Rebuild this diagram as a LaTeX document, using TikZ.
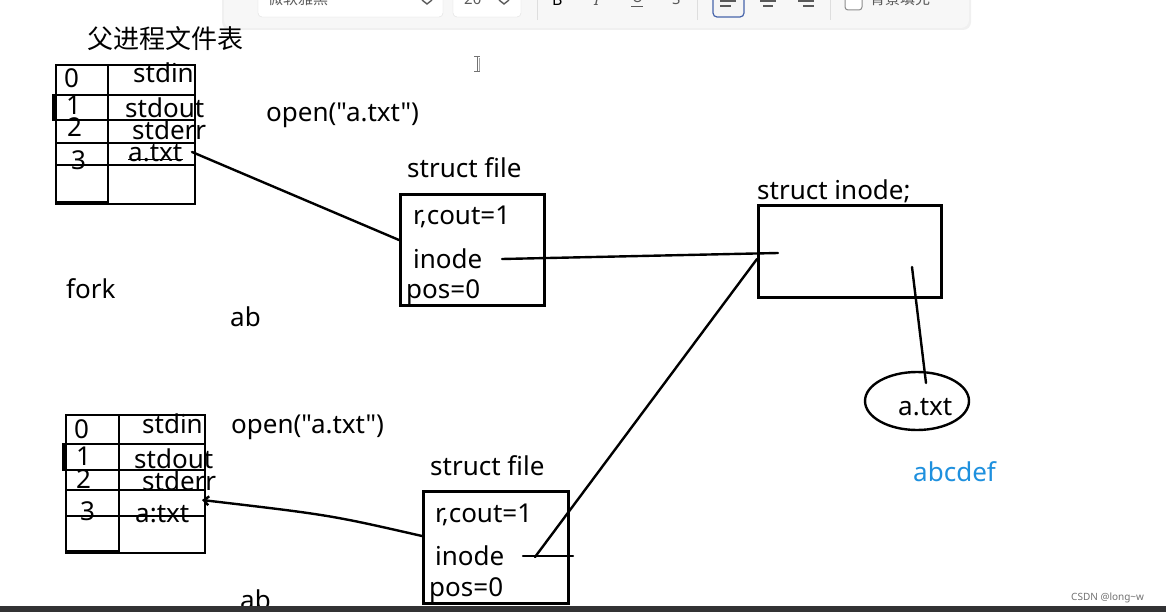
\documentclass[tikz,border=0pt]{standalone}
\usepackage{fontspec}
\setmainfont{Noto Sans}[Ligatures=TeXOff]
\newfontfamily\cjk{Noto Sans CJK SC}
\usetikzlibrary{arrows.meta,shapes.geometric}
\definecolor{tbborder}{RGB}{222,222,222}
\definecolor{tbgray}{RGB}{90,90,90}
\definecolor{selblue}{RGB}{70,100,170}
\definecolor{abcblue}{RGB}{30,144,222}
\definecolor{barcol}{RGB}{50,50,52}
\begin{document}
\begin{tikzpicture}[x=1pt,y=-1pt,
  lbl/.style={anchor=base west, inner sep=0pt, font=\fontsize{26}{30}\selectfont},
  box/.style={draw, line width=2.6pt},
  grid/.style={line width=2.6pt},
  conn/.style={line width=2.4pt, line cap=round},
  tbtext/.style={anchor=base west, inner sep=0pt, text=tbgray, font=\cjk\fontsize{15}{18}\selectfont},
  tbicon/.style={line width=1.4pt, draw=tbgray},
]
\useasboundingbox (0,0) rectangle (1166,612);
\clip (0,0) rectangle (1166,612);
\fill[white] (0,0) rectangle (1166,612);

% ---------- toolbar fragment ----------
\fill[black!6, rounded corners=8pt] (222,-20) rectangle (971,30);
\fill[black!3, rounded corners=8pt] (224,-20) rectangle (969,28);
\fill[white!97!black, rounded corners=7pt] (226,-20) rectangle (967,25);
\draw[tbborder, fill=white, rounded corners=4pt] (258,-20) rectangle (443,17);
\node[tbtext] (tbfont) at (268,5) {微软雅黑};
\draw[tbicon] (422,0) -- (427,4) -- (432,0);
\draw[tbborder, fill=white, rounded corners=4pt] (453,-20) rectangle (521,17);
\node[tbtext, font=\fontsize{15}{18}\selectfont] (tbsize) at (464,5) {20};
\draw[tbicon] (499,0) -- (504,4) -- (509,0);
\draw[tbborder] (537,-20) -- (537,20);
\node[tbtext, text=black, font=\bfseries\fontsize{16}{18}\selectfont] (tbb) at (552,6) {B};
\node[tbtext, font=\itshape\fontsize{16}{18}\selectfont] (tbi) at (594,6) {I};
\node[tbtext, font=\fontsize{15}{18}\selectfont] (tbu) at (632,3) {U};
\draw[tbicon, line width=1pt] (631,7) -- (643,7);
\node[tbtext, font=\fontsize{15}{18}\selectfont] (tbs) at (672,5) {S};
\draw[tbicon, line width=1pt] (670,0) -- (684,0);
\draw[tbborder] (697,-20) -- (697,20);
\draw[selblue, line width=1.2pt, fill=black!4, rounded corners=4pt] (713,-12) rectangle (744,17);
\draw[tbicon] (720,1) -- (736,1) (720,6) -- (731,6);
\draw[tbicon] (760,1) -- (776,1) (763,6) -- (773,6);
\draw[tbicon] (798,1) -- (814,1) (803,6) -- (814,6);
\draw[tbborder] (830,-20) -- (830,20);
\draw[black!45, line width=1pt, fill=white, rounded corners=3pt] (845,-8) rectangle (862,10);
\node[tbtext] (tbbg) at (870,5) {背景填充};

% text cursor
\draw[black!55, line width=1pt] (474,57) -- (480,57) (474,72) -- (480,72) (477,57) -- (477,72);
\draw[black!35, line width=0.8pt] (479,58) -- (479,71);

% ---------- heading ----------
\node[anchor=base west, inner sep=0pt, font=\cjk\fontsize{26}{30}\selectfont] (title) at (87,49) {父进程文件表};

% ---------- parent file table ----------
\draw[grid] (56,65) rectangle (195,204);
\draw[grid] (108,65) -- (108,204);
\draw[grid] (56,95) -- (195,95);
\draw[grid] (56,120) -- (195,120);
\draw[grid] (56,143) -- (195,143);
\draw[grid] (56,165) -- (195,165);
\draw[line width=4pt] (54,94) -- (54,121);
\draw[line width=4.5pt] (56,203) -- (108,203);
\node[lbl] (p0) at (64,88) {0};
\node[lbl] (p1) at (66,115) {1};
\node[lbl] (p2) at (67,137) {2};
\node[lbl] (p3) at (71,170) {3};
\node[lbl] (pin) at (133,83) {stdin};
\node[lbl] (pout) at (125,118) {stdout};
\node[lbl] (perr) at (132,140) {stderr};
\node[lbl] (ptxt) at (128,162) {a.txt};
\draw[line width=1pt] (128,160) -- (183,160);

\node[lbl] (open1) at (266,122) {open("a.txt")};
\node[lbl] (fork) at (66,298) {fork};
\node[lbl] (ab1) at (230,326) {ab};

% ---------- struct file (top) ----------
\node[lbl] (sf1) at (407,178) {struct file};
\node[box, anchor=north west, minimum width=144pt, minimum height=111pt, inner sep=0pt] (f1) at (399,193) {};
\node[lbl] (rc1) at (413,225) {r,cout=1};
\node[lbl] (in1) at (413,268) {inode};
\node[lbl] (pos1) at (406,298) {pos=0};
\coordinate (f1in) at (399,240);
\coordinate (in1p) at (502,259);

% ---------- struct inode ----------
\node[lbl] (si) at (757,200) {struct inode;};
\node[box, anchor=north west, minimum width=183pt, minimum height=92pt, inner sep=0pt] (ino) at (757,204) {};
\coordinate (inoin) at (778,253);
\coordinate (inotip) at (757,259);
\coordinate (inop) at (912,267);
\node[draw, ellipse, line width=2.4pt, minimum width=104pt, minimum height=58pt, inner sep=0pt] (ell) at (917,401) {};
\node[lbl] (etxt) at (898,415) {a.txt};
\coordinate (ellp) at (926,383);

\node[lbl, text=abcblue] (abc) at (913,481) {abcdef};

% ---------- child file table ----------
\draw[grid] (66,415) rectangle (205,553);
\draw[grid] (119,415) -- (119,553);
\draw[grid] (66,444) -- (205,444);
\draw[grid] (66,470) -- (205,470);
\draw[grid] (66,490) -- (205,490);
\draw[grid] (66,516) -- (205,516);
\draw[line width=4pt] (64,443) -- (64,471);
\draw[line width=4.5pt] (66,552) -- (119,552);
\node[lbl] (c0) at (74,438) {0};
\node[lbl] (c1) at (76,465) {1};
\node[lbl] (c2) at (76,488) {2};
\node[lbl] (c3) at (80,520) {3};
\node[lbl] (cin) at (142,433) {stdin};
\node[lbl] (cout) at (134,468) {stdout};
\node[lbl] (cerr) at (142,490) {stderr};
\node[lbl] (ctxt) at (135,522) {a:txt};
\coordinate (ctxtp) at (202,500);

\node[lbl] (open2) at (231,433) {open("a.txt")};

% ---------- struct file (bottom) ----------
\node[lbl] (sf2) at (430,475) {struct file};
\node[box, anchor=north west, minimum width=145pt, minimum height=112pt, inner sep=0pt] (f2) at (422,490) {};
\node[lbl] (rc2) at (435,522) {r,cout=1};
\node[lbl] (in2) at (435,565) {inode};
\node[lbl] (pos2) at (429,596) {pos=0};
\coordinate (f2in) at (422,536);
\coordinate (in2p) at (523,556);
\coordinate (in2q) at (535,557);
\coordinate (in2end) at (573,556);

\node[lbl] (ab2) at (240,609) {ab};

% ---------- connectors ----------
\coordinate (ptxtp) at (192,152);
\draw[conn] (ptxtp) -- (f1in);
\draw[conn] (in1p) -- (inoin);
\draw[conn] (in2q) -- (inotip);
\draw[conn] (inop) -- (ellp);
\draw[conn] (in2p) -- (in2end);
\draw[conn, -{Straight Barb[length=5pt,width=9pt]}] (f2in) .. controls (330,515) .. (ctxtp);

% ---------- bottom bar and watermark ----------
\fill[barcol] (0,606) rectangle (1166,612);
\node[anchor=base west, inner sep=0pt, text=black!55, font=\fontsize{10}{12}\selectfont] (wm) at (1071,600) {CSDN @long\textasciitilde w};
\end{tikzpicture}
\end{document}
